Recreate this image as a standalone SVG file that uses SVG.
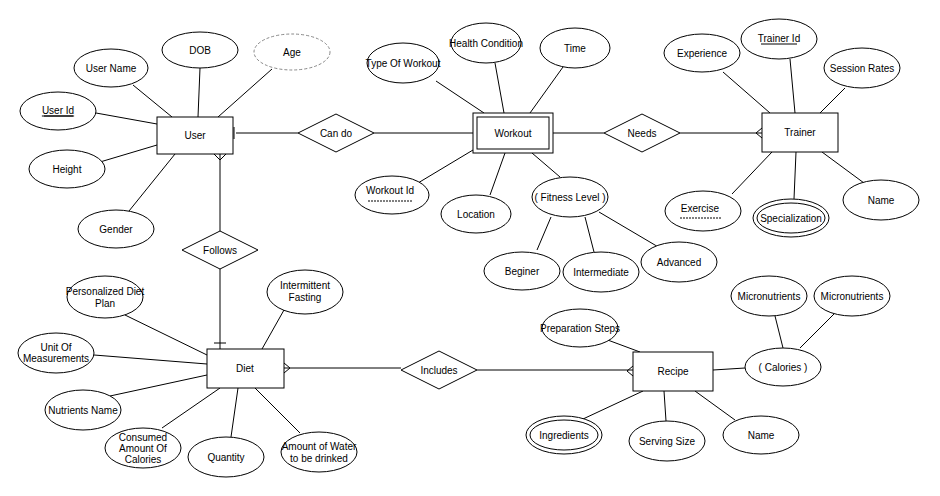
<svg xmlns="http://www.w3.org/2000/svg" width="940" height="496" viewBox="0 0 940 496">
<style>
text{font-family:"Liberation Sans",Arial,sans-serif;font-size:10px;fill:#000;text-anchor:middle;dominant-baseline:central}
.s{fill:#fff;stroke:#000;stroke-width:1}
.l{stroke:#000;stroke-width:1;fill:none}
.d{stroke-dasharray:3 2;stroke:#888}
</style>
<rect width="940" height="496" fill="#fff"/>
<g id="connectors" class="l">
<path d="M133,85L172,117M200,68L198,117M272,69L218,117M96,113L157,124M100,162L157,145M129,211L175,154M236,133H298M374,133H473M220,154V231M220,269V349M214,343H226M234,127V139"/>
<path d="M436,81L484,113M495,63L504,113M563,67L530,113M418,183L473,150M490,195L505,153M560,177L532,153M551,217L537,250M585,217L594,252M599,212L660,248"/>
<path d="M553,133H604M680,133H762M723,72L770,113M790,59L795,113M845,88L820,113M732,194L772,152M796,152L794,199M822,152L864,183"/>
<path d="M125,315L207,355M284,310L262,349M94,355L207,364M110,396L207,375M162,428L220,388M238,388L231,437M255,388L300,433M284,368H401M477,370H633M605,339L640,352M713,370L745,368M775,316L783,348M834,314L800,348M583,419L643,391M664,391L666,421M695,391L735,420"/>
<path d="M473,128L478,133L473,138M553,128L548,133L553,138M762,128L756,133L762,138M284,363L290,368L284,373M633,366L627,371L633,376M214,154L220,160L226,154"/>
</g>
<g id="User"><rect class="s" x="157" y="117" width="76" height="37"/><text x="195" y="135">User</text></g>
<g id="UserName"><ellipse class="s" cx="111" cy="68" rx="37" ry="19"/><text x="111" y="68">User Name</text></g>
<g id="DOB"><ellipse class="s" cx="200" cy="50" rx="38" ry="18"/><text x="200" y="50">DOB</text></g>
<g id="Age"><ellipse class="s d" cx="292" cy="52" rx="38" ry="18"/><text x="292" y="52">Age</text></g>
<g id="UserId"><ellipse class="s" cx="58" cy="111" rx="38" ry="19"/><text x="58" y="110" text-decoration="underline">User Id</text><line class="l" x1="44" y1="116" x2="73" y2="116"/></g>
<g id="Height"><ellipse class="s" cx="67" cy="169" rx="38" ry="19"/><text x="67" y="169">Height</text></g>
<g id="Gender"><ellipse class="s" cx="116" cy="229" rx="38" ry="19"/><text x="116" y="229">Gender</text></g>
<g id="CanDo"><polygon class="s" points="298,133 336,114 374,133 336,152"/><text x="336" y="133">Can do</text></g>
<g id="Workout"><rect class="s" x="473" y="113" width="80" height="40"/><rect class="s" x="477" y="117" width="72" height="32"/><text x="513" y="133">Workout</text></g>
<g id="TypeOfWorkout"><ellipse class="s" cx="403" cy="63" rx="36" ry="20"/><text x="403" y="63">Type Of Workout</text></g>
<g id="HealthCondition"><ellipse class="s" cx="486" cy="43" rx="35" ry="20"/><text x="486" y="43">Health Condition</text></g>
<g id="Time"><ellipse class="s" cx="575" cy="48" rx="35" ry="20"/><text x="575" y="48">Time</text></g>
<g id="WorkoutId"><ellipse class="s" cx="392" cy="195" rx="37" ry="19"/><text x="390" y="190">Workout Id</text><line class="l" stroke-dasharray="2 1" x1="368" y1="201" x2="412" y2="201"/></g>
<g id="Location"><ellipse class="s" cx="476" cy="214" rx="35" ry="19"/><text x="476" y="214">Location</text></g>
<g id="FitnessLevel"><ellipse class="s" cx="570" cy="197" rx="38" ry="20"/><text x="570" y="197">( Fitness Level )</text></g>
<g id="Beginer"><ellipse class="s" cx="522" cy="271" rx="38" ry="19"/><text x="522" y="271">Beginer</text></g>
<g id="Intermediate"><ellipse class="s" cx="601" cy="272" rx="38" ry="20"/><text x="601" y="272">Intermediate</text></g>
<g id="Advanced"><ellipse class="s" cx="679" cy="262" rx="38" ry="20"/><text x="679" y="262">Advanced</text></g>
<g id="Needs"><polygon class="s" points="604,133 642,114 680,133 642,152"/><text x="642" y="133">Needs</text></g>
<g id="Trainer"><rect class="s" x="762" y="113" width="76" height="39"/><text x="800" y="132">Trainer</text></g>
<g id="Experience"><ellipse class="s" cx="702" cy="53" rx="38" ry="19"/><text x="702" y="53">Experience</text></g>
<g id="TrainerId"><ellipse class="s" cx="779" cy="39" rx="38" ry="20"/><text x="779" y="38">Trainer Id</text><line class="l" x1="761" y1="44" x2="797" y2="44"/></g>
<g id="SessionRates"><ellipse class="s" cx="862" cy="68" rx="38" ry="20"/><text x="862" y="68">Session Rates</text></g>
<g id="Exercise"><ellipse class="s" cx="703" cy="211" rx="38" ry="20"/><text x="700" y="208">Exercise</text><line class="l" stroke-dasharray="2 1" x1="680" y1="218" x2="722" y2="218"/></g>
<g id="Specialization"><ellipse class="s" cx="791" cy="218" rx="38" ry="19"/><ellipse class="s" cx="791" cy="218" rx="34" ry="15"/><text x="791" y="218">Specialization</text></g>
<g id="TrainerName"><ellipse class="s" cx="881" cy="200" rx="38" ry="20"/><text x="881" y="200">Name</text></g>
<g id="Follows"><polygon class="s" points="182,250 220,231 258,250 220,269"/><text x="220" y="250">Follows</text></g>
<g id="Diet"><rect class="s" x="207" y="349" width="77" height="39"/><text x="245" y="368">Diet</text></g>
<g id="PersonalizedDietPlan"><ellipse class="s" cx="105" cy="297" rx="38" ry="21"/><text x="105" y="291">Personalized Diet</text><text x="105" y="303">Plan</text></g>
<g id="IntermittentFasting"><ellipse class="s" cx="305" cy="292" rx="38" ry="22"/><text x="305" y="285">Intermittent</text><text x="305" y="297">Fasting</text></g>
<g id="UnitOfMeasurements"><ellipse class="s" cx="56" cy="353" rx="38" ry="20"/><text x="56" y="347">Unit Of</text><text x="56" y="358">Measurements</text></g>
<g id="NutrientsName"><ellipse class="s" cx="83" cy="410" rx="38" ry="20"/><text x="83" y="410">Nutrients Name</text></g>
<g id="ConsumedCalories"><ellipse class="s" cx="143" cy="448" rx="38" ry="20"/><text x="143" y="437">Consumed</text><text x="143" y="448">Amount Of</text><text x="143" y="459">Calories</text></g>
<g id="Quantity"><ellipse class="s" cx="226" cy="457" rx="38" ry="20"/><text x="226" y="457">Quantity</text></g>
<g id="AmountOfWater"><ellipse class="s" cx="319" cy="452" rx="38" ry="20"/><text x="319" y="446">Amount of Water</text><text x="319" y="458">to be drinked</text></g>
<g id="Includes"><polygon class="s" points="401,370 439,351 477,370 439,389"/><text x="439" y="370">Includes</text></g>
<g id="Recipe"><rect class="s" x="633" y="352" width="80" height="39"/><text x="673" y="371">Recipe</text></g>
<g id="PreparationSteps"><ellipse class="s" cx="580" cy="328" rx="38" ry="19"/><text x="580" y="328">Preparation Steps</text></g>
<g id="Calories"><ellipse class="s" cx="783" cy="367" rx="38" ry="19"/><text x="783" y="367">( Calories )</text></g>
<g id="Micronutrients1"><ellipse class="s" cx="769" cy="296" rx="38" ry="20"/><text x="769" y="296">Micronutrients</text></g>
<g id="Micronutrients2"><ellipse class="s" cx="852" cy="296" rx="38" ry="20"/><text x="852" y="296">Micronutrients</text></g>
<g id="Ingredients"><ellipse class="s" cx="564" cy="435" rx="38" ry="19"/><ellipse class="s" cx="564" cy="435" rx="34" ry="15"/><text x="564" y="435">Ingredients</text></g>
<g id="ServingSize"><ellipse class="s" cx="667" cy="441" rx="38" ry="20"/><text x="667" y="441">Serving Size</text></g>
<g id="RecipeName"><ellipse class="s" cx="761" cy="435" rx="38" ry="19"/><text x="761" y="435">Name</text></g>
</svg>
